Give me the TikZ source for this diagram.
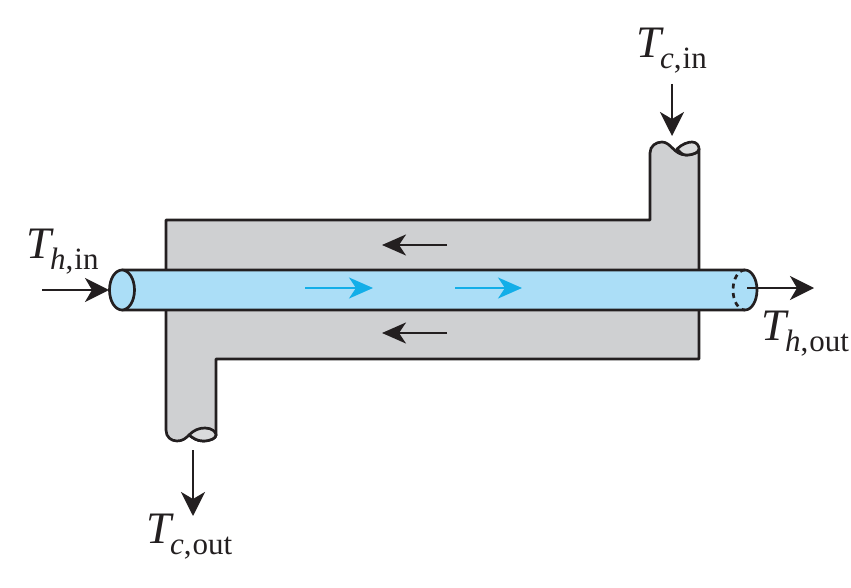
\documentclass[tikz,border=0pt]{standalone}
\usepackage{fontspec}
\setmainfont{Liberation Serif}
\usetikzlibrary{arrows.meta}
\definecolor{shellgray}{HTML}{CFD0D2}
\definecolor{lensgray}{HTML}{DADBDC}
\definecolor{tubeblue}{HTML}{ABDEF7}
\definecolor{flowblue}{HTML}{12AEE8}
\definecolor{inkline}{HTML}{231F20}
\newcommand{\templabel}[2]{{\fontsize{45}{45}\selectfont\itshape T}\kern-1pt\raisebox{-11pt}{\fontsize{31}{31}\selectfont\itshape #1\kern0pt\upshape ,\kern1pt #2}}
\tikzset{
  outline/.style={draw=inkline,line width=2.7pt,line join=round},
  flow/.style={draw=inkline,line width=2.5pt,-{Stealth[length=24pt,width=24pt,inset=7pt]}},
  innerflow/.style={draw=inkline,line width=2.5pt,-{Stealth[length=24pt,width=21pt,inset=7pt]}},
  hotflow/.style={draw=flowblue,line width=2.5pt,-{Stealth[length=24pt,width=21pt,inset=7pt]}},
  templ/.style={inner sep=0pt,anchor=base west,text=inkline}
}
\begin{document}
\begin{tikzpicture}[x=1pt,y=-1pt]
\useasboundingbox (0,0) rectangle (851,588);
% shell
\path[outline,fill=shellgray]
  (166,220) -- (650,220) -- (650,153)
  .. controls (650,146) and (656,142) .. (662,142)
  .. controls (671,142) and (674,155) .. (686,155)
  .. controls (694,155) and (699,152) .. (699,149)
  -- (699,359) -- (216,359) -- (216,435)
  .. controls (216,438) and (211,441) .. (203,441)
  .. controls (197,441) and (193,438) .. (189,435)
  .. controls (186,438) and (183,441) .. (177,441)
  .. controls (171,441) and (166,437) .. (166,430)
  -- cycle;
% top lens
\path[outline,fill=lensgray]
  (677,149) .. controls (682,144) and (688,142) .. (692,142)
  .. controls (697,142) and (699,146) .. (699,149)
  .. controls (699,152) and (694,155) .. (686,155)
  .. controls (682,155) and (680,152) .. (677,149) -- cycle;
% bottom lens
\path[outline,fill=lensgray]
  (189,435) .. controls (194,430) and (199,428) .. (205,428)
  .. controls (212,428) and (216,432) .. (216,435)
  .. controls (216,438) and (211,441) .. (203,441)
  .. controls (197,441) and (193,438) .. (189,435) -- cycle;
% tube
\path[outline,fill=tubeblue]
  (122,270) -- (745,270) arc[start angle=-90,end angle=90,x radius=12,y radius=20]
  -- (122,310) -- cycle;
\path[outline,fill=tubeblue] (122,290) ellipse[x radius=12.5,y radius=20];
\draw[draw=inkline,line width=2.7pt,dash pattern=on 5pt off 4.5pt]
  (745,270) arc[start angle=-90,end angle=-270,x radius=12,y radius=20];
% anchors for connectors
\coordinate (hin) at (42,290);
\coordinate (hinend) at (109,290);
\coordinate (hout) at (747,288);
\coordinate (houtend) at (814,288);
\coordinate (cin) at (672,84);
\coordinate (cinend) at (672,136);
\coordinate (cout) at (193,450);
\coordinate (coutend) at (193,516);
\coordinate (ua) at (447,245);
\coordinate (ub) at (382,245);
\coordinate (la) at (447,333);
\coordinate (lb) at (382,333);
\coordinate (ba) at (305,288);
\coordinate (bb) at (373,288);
\coordinate (ca) at (455,288);
\coordinate (cb) at (522,288);
\draw[flow] (hin) -- (hinend);
\draw[flow] (hout) -- (houtend);
\draw[flow] (cin) -- (cinend);
\draw[flow] (cout) -- (coutend);
\draw[innerflow] (ua) -- (ub);
\draw[innerflow] (la) -- (lb);
\draw[hotflow] (ba) -- (bb);
\draw[hotflow] (ca) -- (cb);
% labels
\node[templ] (thin) at (26,258) {\templabel{h}{in}};
\node[templ] (tcin) at (636,58) {\templabel{c}{in}};
\node[templ] (thout) at (761,340) {\templabel{h}{out}};
\node[templ] (tcout) at (146,543) {\templabel{c}{out}};
\end{tikzpicture}
\end{document}
